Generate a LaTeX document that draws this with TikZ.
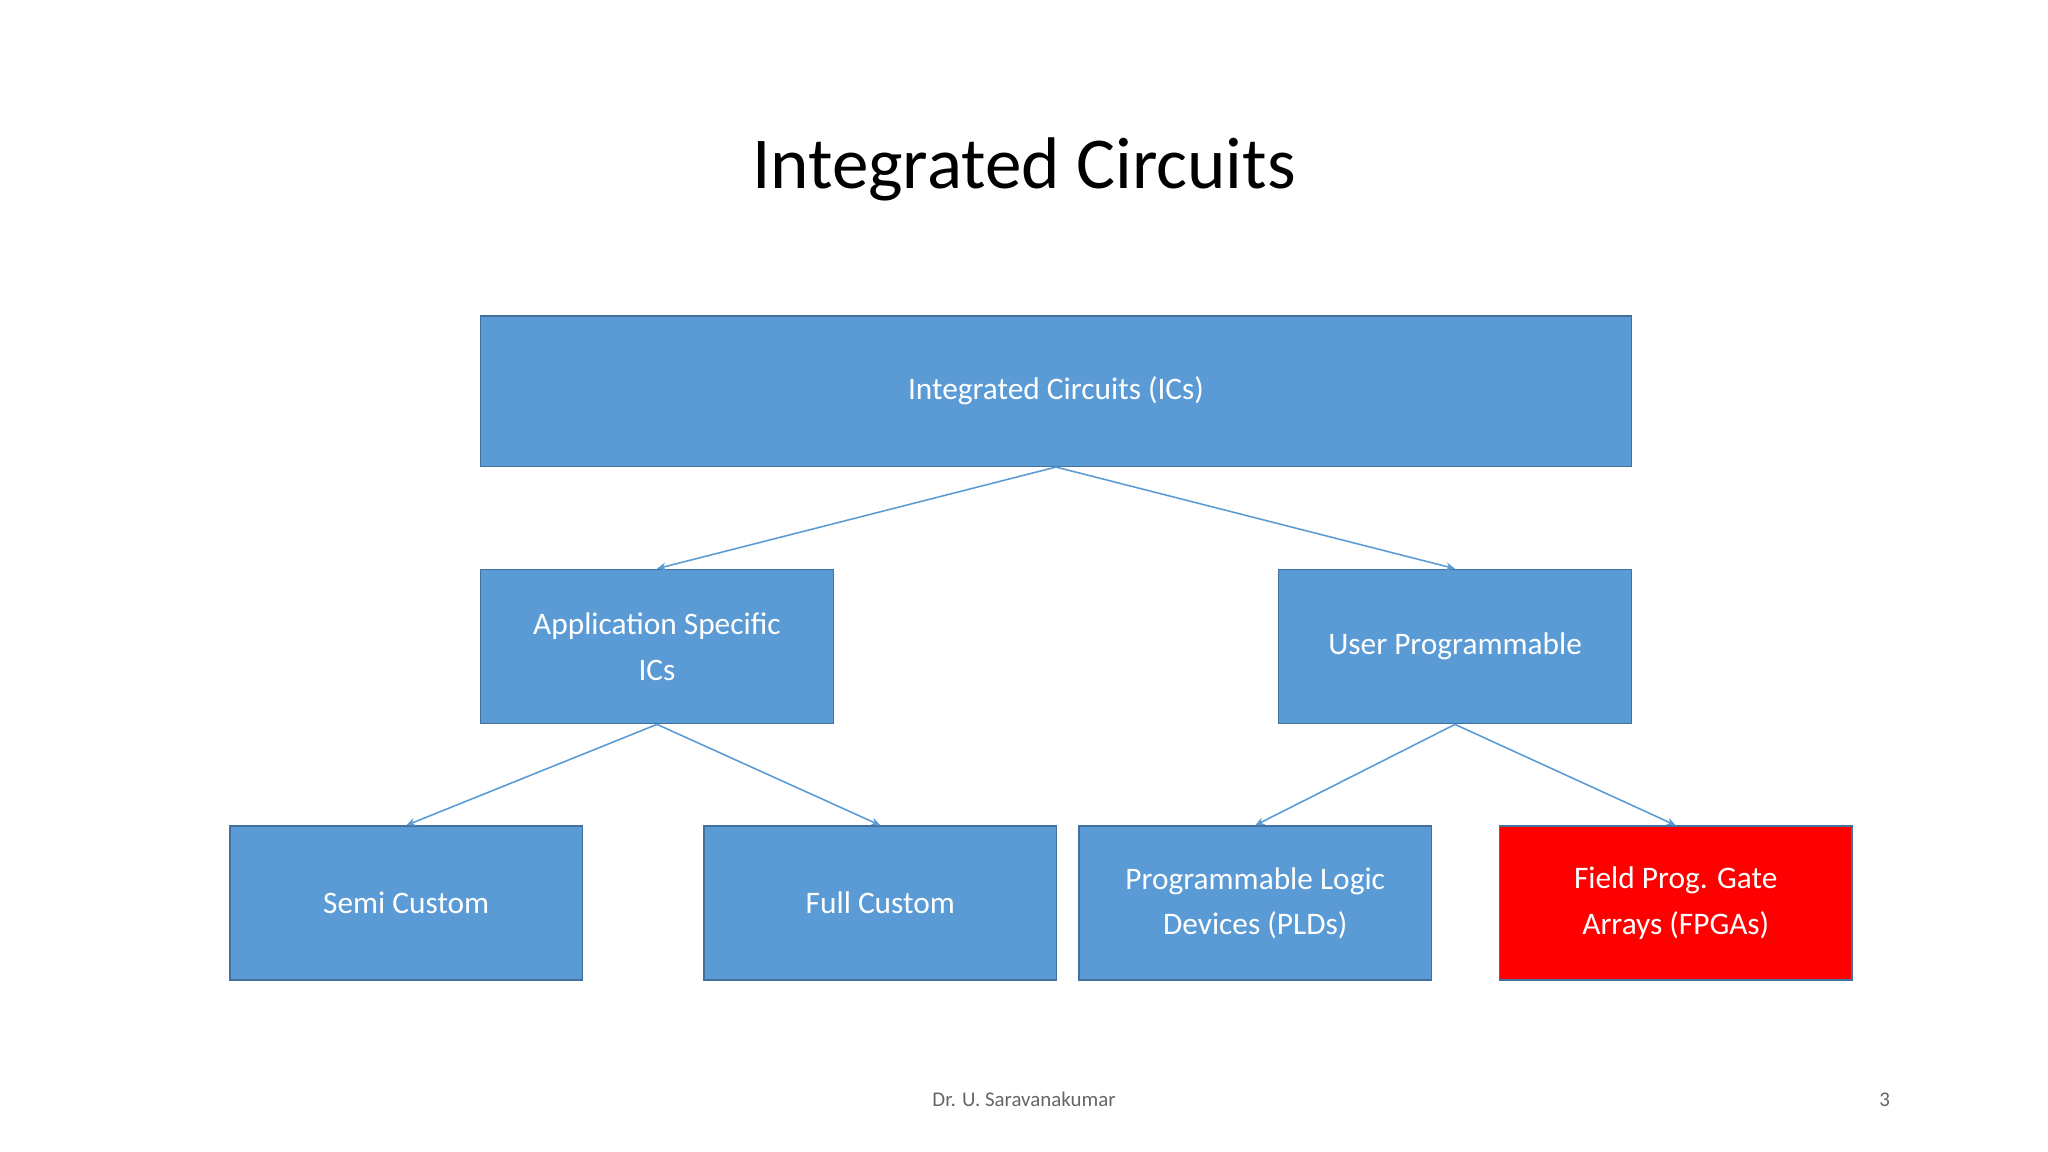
\documentclass[tikz,border=0pt]{standalone}
\usepackage{fontspec}
\setmainfont{Carlito}
\usetikzlibrary{arrows.meta}
\definecolor{boxblue}{HTML}{5B9BD5}
\definecolor{edgeblue}{HTML}{41719C}
\begin{document}
\begin{tikzpicture}[x=1pt,y=-1pt,
  box/.style={draw=edgeblue,line width=1.2pt,fill=boxblue,text=white,minimum width=270pt,minimum height=118pt,inner sep=0pt,align=center,font=\fontsize{24}{35}\selectfont},
  conn/.style={draw=boxblue,line width=1.2pt,-{Stealth[length=7pt,width=6pt]}}]
\useasboundingbox[fill=white] (0,0) rectangle (1568,882);
\node (title) at (784,130) {\fontsize{56}{60}\selectfont Integrated Circuits};
\node[box,minimum width=881pt,minimum height=115pt] (ic) at (808.5,299.5) {Integrated Circuits (ICs)};
\node[box] (asic) at (503,495) {Application Specific\\ICs};
\node[box] (up) at (1114,495) {User Programmable};
\node[box] (semi) at (311,691.5) {Semi Custom};
\node[box] (full) at (674,691.5) {Full Custom};
\node[box] (pld) at (961,691.5) {Programmable Logic\\Devices (PLDs)};
\node[box,fill=red] (fpga) at (1283,691.5) {Field Prog. Gate\\Arrays (FPGAs)};
\draw[conn] (ic.south) -- (asic.north);
\draw[conn] (ic.south) -- (up.north);
\draw[conn] (asic.south) -- (semi.north);
\draw[conn] (asic.south) -- (full.north);
\draw[conn] (up.south) -- (pld.north);
\draw[conn] (up.south) -- (fpga.north);
\node[text=black!60,font=\fontsize{16}{18}\selectfont] (foot) at (784,842) {Dr. U. Saravanakumar};
\node[text=black!60,font=\fontsize{16}{18}\selectfont] (page) at (1443,842) {3};
\end{tikzpicture}
\end{document}
